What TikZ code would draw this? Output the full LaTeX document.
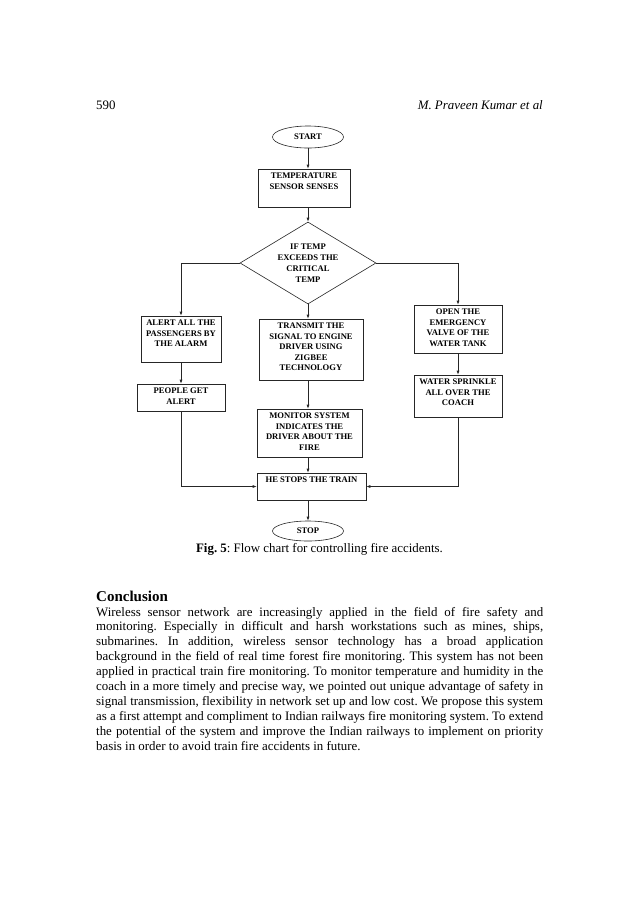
\documentclass[tikz,border=0pt]{standalone}
\usepackage{fontspec}
\setmainfont{Liberation Serif}
\usetikzlibrary{shapes.geometric}
\usetikzlibrary{arrows.meta}

% text of a flow box, set from its top
\newcommand{\flowtext}[3]{\parbox[c][#2][t]{#1}{\centering\vspace*{4pt}#3}}

\begin{document}
\frenchspacing
\begin{tikzpicture}[x=1pt,y=-1pt,
        flowbox/.style={draw=black!85,line width=0.6pt,inner sep=0pt,font=\fontsize{8.6}{10.5}\selectfont\bfseries},
        terminal/.style={ellipse,draw=black!85,line width=0.6pt,inner sep=0pt,font=\fontsize{8.6}{10.5}\selectfont\bfseries},
        decision/.style={diamond,aspect=1.66,draw=black!85,line width=0.6pt,inner sep=0pt,align=center,font=\fontsize{8.6}{11}\selectfont\bfseries},
        flow/.style={draw=black!85,line width=0.6pt,-{Latex[length=4pt,width=3pt]}},
        bodytext/.style={inner sep=0pt,font=\fontsize{12.9}{14.9}\selectfont}]

        % the page
        \useasboundingbox[fill=white] (0,0) rectangle (638,903);

        % running head
        \node[bodytext,anchor=base west] (pagenum) at (96,109.4) {590};
        \node[bodytext,anchor=base east] (authors) at (543,109.4) {\itshape M. Praveen Kumar et al};

        % draw the flow chart
        \node[terminal,minimum width=71,minimum height=22] (start) at (308,137) {START};
        \node[flowbox] (sense) at (304,188) {\flowtext{92pt}{38pt}{TEMPERATURE\\SENSOR SENSES}};
        \node[decision,minimum width=136,minimum height=82] (check) at (308,263) {IF TEMP\\EXCEEDS THE\\CRITICAL\\TEMP};

        \node[flowbox] (alarm) at (181,339) {\flowtext{80pt}{46pt}{ALERT ALL THE\\PASSENGERS BY\\THE ALARM}};
        \node[flowbox] (people) at (181,397.5) {\flowtext{88pt}{27pt}{PEOPLE GET\\ALERT}};

        \node[flowbox] (transmit) at (311,349.5) {\flowtext{104pt}{61pt}{TRANSMIT THE\\SIGNAL TO ENGINE\\DRIVER USING\\ZIGBEE\\TECHNOLOGY}};
        \node[flowbox] (monitor) at (309.5,433) {\flowtext{105pt}{48pt}{MONITOR SYSTEM\\INDICATES THE\\DRIVER ABOUT THE\\FIRE}};

        \node[flowbox] (valve) at (458,329) {\flowtext{88pt}{48pt}{OPEN THE\\EMERGENCY\\VALVE OF THE\\WATER TANK}};
        \node[flowbox] (sprinkle) at (458,396) {\flowtext{88pt}{42pt}{WATER SPRINKLE\\ALL OVER THE\\COACH}};

        \node[flowbox] (stops) at (311.5,486.5) {\flowtext{109pt}{27pt}{HE STOPS THE TRAIN}};
        \node[terminal,minimum width=71,minimum height=20] (stop) at (308,531) {STOP};

        % connectors
        \draw[flow] (start.south) -- (start.south |- sense.north);
        \draw[flow] (check.north |- sense.south) -- (check.north);
        \draw[flow] (check.west) -| (alarm.north);
        \draw[flow] (check.south) -- (check.south |- transmit.north);
        \draw[flow] (check.east) -| (valve.north);
        \draw[flow] (alarm) -- (people);
        \draw[flow] (check.south |- transmit.south) -- (check.south |- monitor.north);
        \draw[flow] (valve) -- (sprinkle);
        \draw[flow] (check.south |- monitor.south) -- (check.south |- stops.north);
        \draw[flow] (people.south) |- (stops.west);
        \draw[flow] (sprinkle.south) |- (stops.east);
        \draw[flow] (stops.south -| stop.north) -- (stop.north);

        % caption
        \node[bodytext,anchor=base] (caption) at (319.5,552.5) {\textbf{Fig. 5}: Flow chart for controlling fire accidents.};

        % conclusion
        \node[inner sep=0pt,anchor=base west,font=\fontsize{15}{17}\selectfont\bfseries] (heading) at (96,601.3) {Conclusion};
        \node[bodytext,anchor=base west,text width=447pt,align=justify] (body) at (96,616) {Wireless sensor network are increasingly applied in the field of fire safety and\linebreak
        monitoring. Especially in difficult and harsh workstations such as mines, ships,\linebreak
        submarines. In addition, wireless sensor technology has a broad application\linebreak
        background in the field of real time forest fire monitoring. This system has not been\linebreak
        applied in practical train fire monitoring. To monitor temperature and humidity in the\linebreak
        coach in a more timely and precise way, we pointed out unique advantage of safety in\linebreak
        signal transmission, flexibility in network set up and low cost. We propose this system\linebreak
        as a first attempt and compliment to Indian railways fire monitoring system. To extend\linebreak
        the potential of the system and improve the Indian railways to implement on priority\linebreak
        basis in order to avoid train fire accidents in future.};

\end{tikzpicture}
\end{document}
